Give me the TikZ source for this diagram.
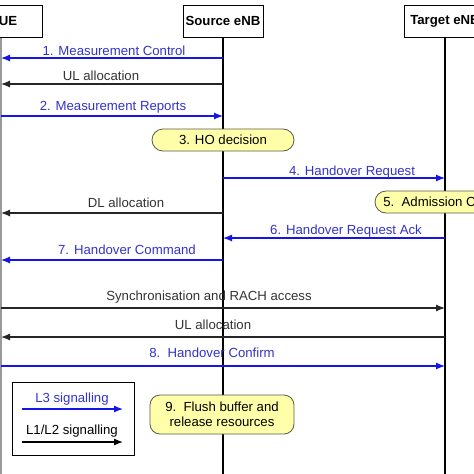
\documentclass[tikz,border=0pt]{standalone}
\usepackage{fontspec}
\setmainfont{Liberation Sans}
\usetikzlibrary{arrows.meta}
\definecolor{sigblue}{RGB}{20,20,235}
\definecolor{txtblue}{RGB}{50,50,205}
\definecolor{notefill}{RGB}{255,255,170}
\definecolor{noteline}{RGB}{90,90,70}
\begin{document}
\begin{tikzpicture}[x=1pt,y=-1pt,
  every node/.style={font=\fontsize{13.2}{15}\selectfont,inner sep=0pt},
  entity/.style={draw,line width=1pt,fill=white,minimum height=32pt,font=\fontsize{13.2}{15}\selectfont\bfseries},
  lifeline/.style={line width=1.2pt},
  l3/.style={line width=1.2pt,sigblue,-{Latex[length=9pt,width=7pt]}},
  lone/.style={line width=1.2pt,black!85,-{Latex[length=9pt,width=7pt]}},
  l3txt/.style={txtblue,anchor=base},
  lonetxt/.style={black!80,anchor=base},
  note/.style={draw=noteline,fill=notefill,line width=0.8pt,align=center}]
\useasboundingbox (0,0) rectangle (474,474);
\clip (0,0) rectangle (474,474);
\node[entity,minimum width=82pt] (ue) at (1,21) {};
\node[font=\fontsize{13.2}{15}\selectfont\bfseries] (uename) at (8,21) {UE};
\node[entity,minimum width=80pt] (src) at (223,21) {Source eNB};
\node[entity,minimum width=82pt] (tgt) at (445,21) {Target eNB};
\coordinate (bottom) at (0,474);
\draw[lifeline,gray!80,line width=2.4pt] (ue.south) -- (ue.south |- bottom);
\draw[lifeline] (src.south) -- (src.south |- bottom);
\draw[lifeline] (tgt.south) -- (tgt.south |- bottom);
% messages
\coordinate (m1) at (0,58);
\draw[l3] (src |- m1) -- (ue |- m1);
\node[l3txt] (t1) at (114,55) {1. Measurement Control};
\coordinate (m2) at (0,84);
\draw[lone] (src |- m2) -- (ue |- m2);
\node[lonetxt] (t2) at (101,80) {UL allocation};
\coordinate (m3) at (0,116);
\draw[l3] (ue |- m3) -- (src |- m3);
\node[l3txt] (t3) at (113,110) {2. Measurement Reports};
\node[note,minimum width=142pt,minimum height=22pt,rounded corners=11pt] (hodec) at (223,140) {3. HO decision};
\coordinate (m4) at (0,178);
\draw[l3] (src |- m4) -- (tgt |- m4);
\node[l3txt] (t4) at (352,175) {4. Handover Request};
\node[note,minimum width=142pt,minimum height=22pt,rounded corners=11pt] (admit) at (446,202) {5.\ \ Admission Control};
\coordinate (m5) at (0,213);
\draw[lone] (src |- m5) -- (ue |- m5);
\node[lonetxt] (t5) at (126,207) {DL allocation};
\coordinate (m6) at (0,238);
\draw[l3] (tgt |- m6) -- (src |- m6);
\node[l3txt] (t6) at (346,234) {6. Handover Request Ack};
\coordinate (m7) at (0,260);
\draw[l3] (src |- m7) -- (ue |- m7);
\node[l3txt] (t7) at (127,254) {7. Handover Command};
\coordinate (m8) at (0,308);
\draw[lone] (ue |- m8) -- (tgt |- m8);
\node[lonetxt] (t8) at (209,300) {Synchronisation and RACH access};
\coordinate (m9) at (0,337);
\draw[lone] (tgt |- m9) -- (ue |- m9);
\node[lonetxt] (t9) at (213,329) {UL allocation};
\coordinate (m10) at (0,366);
\draw[l3] (ue |- m10) -- (tgt |- m10);
\node[l3txt] (t10) at (212,357) {8.\ \ Handover Confirm};
% legend
\node[draw,line width=0.9pt,minimum width=122pt,minimum height=73pt] (legend) at (73,418.5) {};
\node[l3txt] (l3name) at (72,402) {L3 signalling};
\coordinate (la) at (22,409);
\coordinate (lb) at (123,409);
\draw[l3] (la) -- (lb);
\node[lonetxt,black] (lonename) at (72,434) {L1/L2 signalling};
\coordinate (lc) at (22,442);
\coordinate (ld) at (123,442);
\draw[lone,black] (lc) -- (ld);
\node[note,minimum width=144pt,minimum height=39pt,rounded corners=10pt] (flush) at (222,414.5) {9.\ \ Flush buffer and\\release resources};
\end{tikzpicture}
\end{document}
